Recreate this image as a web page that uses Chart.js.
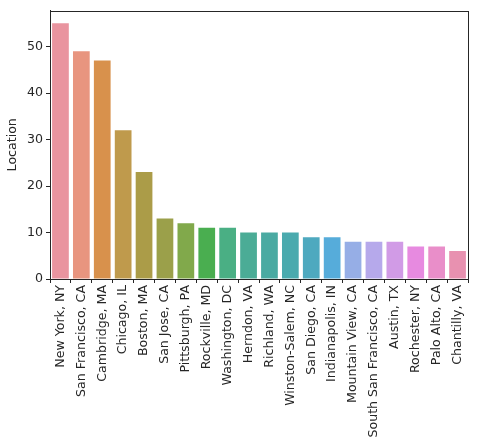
<!DOCTYPE html>
<html>
<head>
<meta charset="utf-8">
<script src="https://cdn.jsdelivr.net/npm/chart.js@4/dist/chart.umd.min.js"></script>
<style>
html,body{margin:0;padding:0;background:#fff;}
#wrap{width:478px;height:446px;}
</style>
</head>
<body>
<div id="wrap"><canvas id="c" width="478" height="446"></canvas></div>
<script>
const categories = ["New York, NY","San Francisco, CA","Cambridge, MA","Chicago, IL","Boston, MA","San Jose, CA","Pittsburgh, PA","Rockville, MD","Washington, DC","Herndon, VA","Richland, WA","Winston-Salem, NC","San Diego, CA","Indianapolis, IN","Mountain View, CA","South San Francisco, CA","Austin, TX","Rochester, NY","Palo Alto, CA","Chantilly, VA"];
const counts = [55,49,47,32,23,13,12,11,11,10,10,10,9,9,8,8,8,7,7,6];
const barColors = ["#e9949f","#e8957f","#d8914c","#bf9a4c","#ab9c48","#9ba04a","#81a94b","#4aae50","#4aaf84","#4bac96","#4aaaa2","#4aaaae","#4ea9bf","#56acda","#96aee6","#b6a9eb","#d19be6","#e78ae0","#e98ec9","#e891b0"];
const yTicks = [0,10,20,30,40,50];
const yLabel = "Location";

const frame = {
  id:'frame',
  afterDraw(chart){
    const a = chart.chartArea, ctx = chart.ctx;
    ctx.save();
    ctx.strokeStyle = '#262626';
    ctx.lineWidth = 1;
    ctx.strokeRect(Math.round(a.left)+0.5, Math.round(a.top)+0.5, Math.round(a.right-a.left), Math.round(a.bottom-a.top));
    ctx.restore();
  }
};

new Chart(document.getElementById('c'), {
  type:'bar',
  data:{
    labels:categories,
    datasets:[{data:counts, backgroundColor:barColors, barPercentage:0.8, categoryPercentage:1.0, borderWidth:0}]
  },
  options:{
    responsive:false,
    animation:false,
    devicePixelRatio:1,
    layout:{padding:{left:0,top:8,right:10,bottom:0}},
    plugins:{legend:{display:false},tooltip:{enabled:false}},
    scales:{
      x:{
        offset:true,
        grid:{display:true,drawOnChartArea:false,drawTicks:true,tickLength:4,color:'#262626'},
        border:{display:true,color:'#262626'},
        ticks:{minRotation:90,maxRotation:90,autoSkip:false,padding:2,color:'#262626',font:{family:'DejaVu Sans',size:12.6}},
        afterFit(s){s.height=167;}
      },
      y:{
        min:0,max:57.75,
        afterBuildTicks(s){s.ticks = yTicks.map(v=>({value:v}));},
        grid:{display:true,drawOnChartArea:false,drawTicks:true,tickLength:4,color:'#262626'},
        border:{display:true,color:'#262626'},
        ticks:{padding:3,color:'#262626',font:{family:'DejaVu Sans',size:12.6}},
        title:{display:true,text:yLabel,color:'#262626',font:{family:'DejaVu Sans',size:12.6},padding:{top:5,bottom:0}},
        afterFit(s){s.width=50;}
      }
    }
  },
  plugins:[frame]
});
</script>
</body>
</html>
